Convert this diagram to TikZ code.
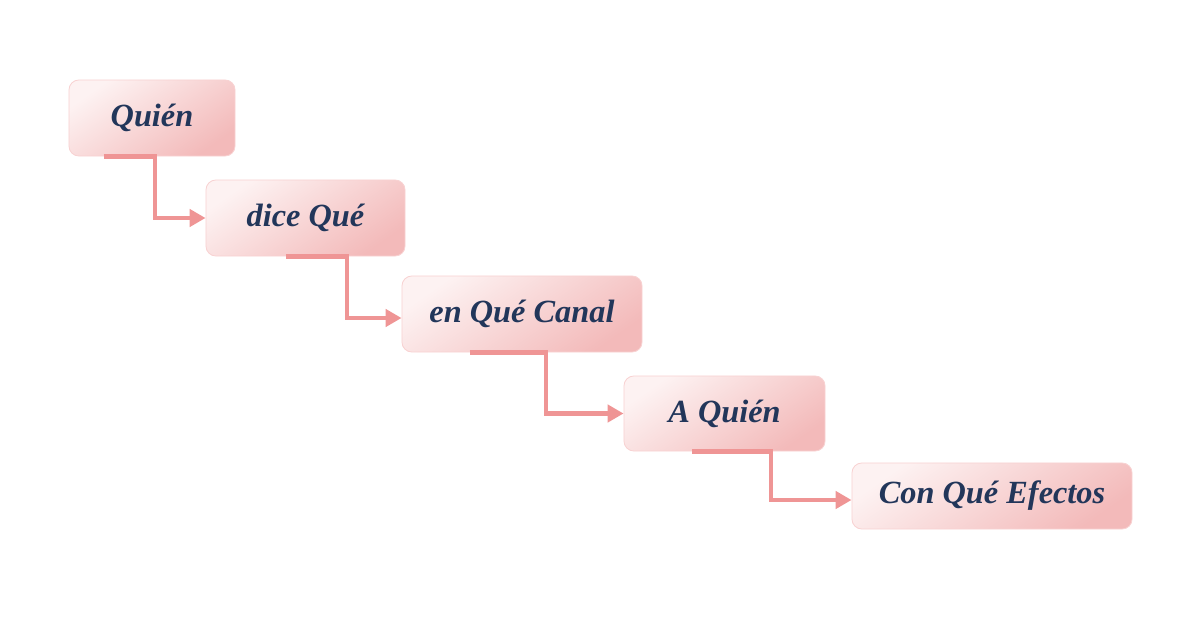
\documentclass[tikz,border=0pt]{standalone}
\usepackage{fontspec}
\setmainfont{Liberation Serif}
\usepackage{tikz}
\usetikzlibrary{arrows.meta,positioning}
\definecolor{boxtop}{HTML}{FDF2F2}
\definecolor{boxbot}{HTML}{F3BABA}
\definecolor{boxline}{HTML}{F8D2D2}
\definecolor{linkred}{HTML}{EF9595}
\definecolor{textnavy}{HTML}{22365A}
\tikzstyle{stage}=[rectangle, rounded corners=7pt, draw=boxline, line width=0.6pt, top color=boxtop, bottom color=boxbot, shading angle=35, text=textnavy, font=\fontsize{23}{26}\selectfont\bfseries\itshape, inner sep=0pt, minimum height=1.9cm]
\tikzstyle{link}=[draw=linkred, line width=1.2mm, -{Triangle[length=4mm,width=4.3mm]}]

\begin{document}
\begin{tikzpicture}[x=0.025cm, y=-0.025cm]
  \useasboundingbox (0,0) rectangle (1181,638);
%
  \node[stage, minimum width=4.15cm] (q) at (152,118) {Quién};
  \node[stage, minimum width=4.975cm] (d) at (305.5,218) {dice Qué};
  \node[stage, minimum width=6cm] (c) at (522,314) {en Qué Canal};
  \node[stage, minimum width=5.025cm, minimum height=1.875cm] (a) at (724.5,413.5) {A Quién};
  \node[stage, minimum width=7cm, minimum height=1.65cm] (e) at (992,496) {Con Qué Efectos};
%
  \draw[link] ([xshift=-1.2cm]q.south) -- ([xshift=0.075cm]q.south) |- (d.west);
  \draw[link] ([xshift=-0.4875cm]d.south) -- ([xshift=1.0375cm]d.south) |- ([yshift=-0.1cm]c.west);
  \draw[link] ([xshift=-1.3cm]c.south) -- ([xshift=0.6cm]c.south) |- (a.west);
  \draw[link] ([xshift=-0.8125cm]a.south) -- ([xshift=1.1625cm]a.south) |- ([yshift=-0.1cm]e.west);
\end{tikzpicture}
\end{document}
